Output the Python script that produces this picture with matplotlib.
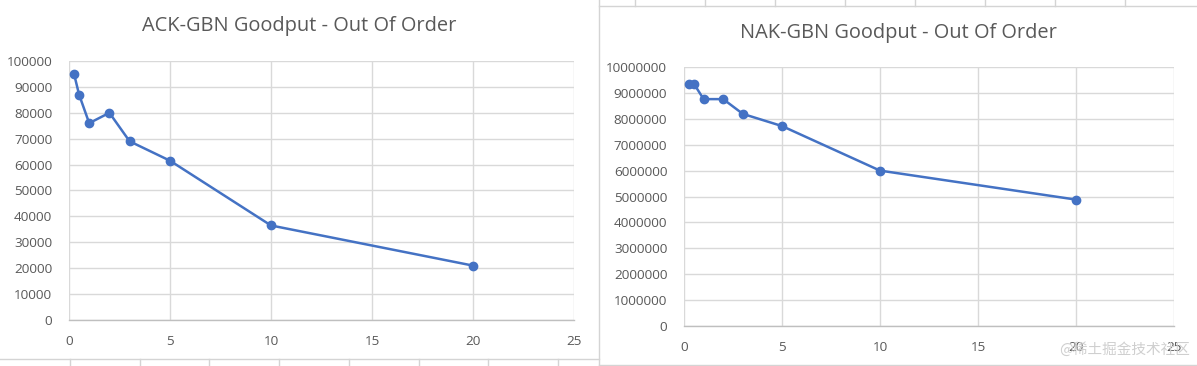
import matplotlib
matplotlib.use("Agg")
import matplotlib.pyplot as plt
from matplotlib.lines import Line2D

# ---- data ----
ack_x = [0.25, 0.5, 1, 2, 3, 5, 10, 20]
ack_y = [95000, 87000, 76000, 80000, 69000, 61500, 36500, 21000]
nak_x = [0.25, 0.5, 1, 2, 3, 5, 10, 20]
nak_y = [9360000, 9360000, 8760000, 8760000, 8190000, 7720000, 6000000, 4880000]

ack_title = "ACK-GBN Goodput - Out Of Order"
nak_title = "NAK-GBN Goodput - Out Of Order"
x_ticks = [0, 5, 10, 15, 20, 25]
ack_yticks = list(range(0, 100001, 10000))
nak_yticks = list(range(0, 10000001, 1000000))

W, H = 1197, 366
fig = plt.figure(figsize=(W / 100, H / 100), dpi=100)
fig.patch.set_facecolor("white")

FONT = "Open Sans"
TXT = "#595959"
GRID = "#d9d9d9"
LINEC = "#4472C4"
SHEET = "#d4d4d4"


def fx(x):
    return x / W


def fy(y):
    return 1 - y / H


def fline(xs, ys, color=SHEET, lw=1.0):
    fig.add_artist(Line2D([fx(v) for v in xs], [fy(v) for v in ys],
                          transform=fig.transFigure, color=color, lw=lw))


# spreadsheet background lines
for xv in [70, 140, 209, 279, 349, 419, 488, 558]:
    fline([xv, xv], [359, 366])
fline([0, 599], [359, 359])
for xv in [635, 705, 775, 845, 915, 985, 1055, 1125]:
    fline([xv, xv], [0, 6])
fline([599, 1197], [6, 6])
fline([599, 599], [0, 366])
fline([599, 1197], [365, 365])


def make(ax_box, xs, ys, yticks, title, title_xy):
    l, t, r, b = ax_box
    ax = fig.add_axes([fx(l), fy(b), fx(r) - fx(l), fy(t) - fy(b)])
    ax.plot(xs, ys, color=LINEC, lw=1.8, marker="o", ms=6,
            markerfacecolor=LINEC, markeredgecolor=LINEC, zorder=3)
    ax.set_xlim(0, 25)
    ax.set_ylim(0, yticks[-1])
    ax.set_xticks(x_ticks)
    ax.set_yticks(yticks)
    ax.set_yticklabels([str(v) for v in yticks])
    ax.grid(True, color=GRID, lw=1.0)
    ax.set_axisbelow(True)
    for s in ["left", "right", "top"]:
        ax.spines[s].set_visible(False)
    ax.spines["bottom"].set_color("#bfbfbf")
    ax.spines["bottom"].set_linewidth(1.0)
    ax.tick_params(length=0, labelsize=9.7, labelcolor=TXT)
    ax.tick_params(axis="y", pad=12)
    ax.tick_params(axis="x", pad=11)
    for lab in ax.get_xticklabels() + ax.get_yticklabels():
        lab.set_fontfamily(FONT)
    fig.text(fx(title_xy[0]), fy(title_xy[1]), title, ha="center", va="center",
             fontsize=14.4, color=TXT, fontfamily=FONT)
    return ax


make((69, 61, 574, 320), ack_x, ack_y, ack_yticks, ack_title, (299, 26))
make((684, 67, 1174, 326), nak_x, nak_y, nak_yticks, nak_title, (898, 33))

fig.text(fx(1190), fy(349), "@稀土掘金技术社区", ha="right", va="center",
         fontsize=10.5, color="#cfcfcf",
         fontfamily=["Noto Sans CJK SC", "DejaVu Sans"])

fig.savefig("out.png", dpi=100, facecolor="white")
